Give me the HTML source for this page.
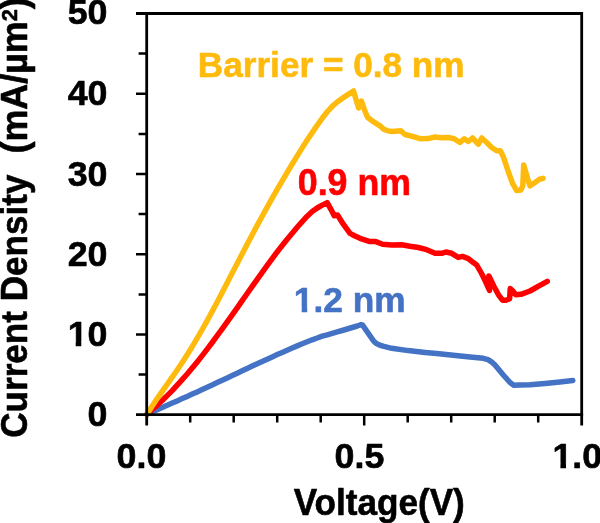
<!DOCTYPE html>
<html><head><meta charset="utf-8"><title>Current Density vs Voltage</title>
<style>
html,body{margin:0;padding:0;background:#fff;}
body{width:600px;height:523px;overflow:hidden;}
svg{display:block;}
text{font-family:"Liberation Sans",sans-serif;font-weight:bold;}
</style></head><body>
<svg width="600" height="523" viewBox="0 0 600 523">
<rect width="600" height="523" fill="#fff"/>
<!-- curves -->
<g fill="none" stroke-width="5.5" stroke-linejoin="round" stroke-linecap="round">
<polyline stroke="#4472C4" points="147.2,414 152.2,411.7 157.2,409.6 162.2,407.4 167.2,405.3 172.2,403.1 177.2,400.9 182.2,398.6 187.2,396.4 192.2,394.1 197.2,391.9 202.2,389.6 207.2,387.3 212.2,384.9 217.2,382.6 222.2,380.3 227.2,377.9 232.2,375.6 237.2,373.2 242.2,370.8 247.2,368.5 252.2,366.1 257.2,363.8 262.2,361.5 267.2,359.2 272.2,356.9 277.2,354.6 282.2,352.4 287.2,350.2 292.2,348.0 297.2,345.9 302.2,343.8 307.2,341.8 312.2,339.8 317.2,338.0 322.2,336.1 327.2,334.8 332.2,333.3 337.2,331.9 342.2,330.5 347.2,329 352.2,327.5 357.2,326 361.2,324.7 362.6,325.2 368.3,333.3 373.8,341.2 376.2,343.4 379,344.8 383,346.2 391.7,348.3 408.3,350.6 425,352.5 436.7,353.6 453.3,355.3 470,357 483.3,358.3 488,359.6 491.5,361.8 495,365 503.3,375 510,382.5 513.8,385.2 520,385 530,384.7 545,383.5 560,382 572.8,380.6"/>
<polyline stroke="#FF0000" points="147.2,414 152.2,409.5 157.2,405.1 162.2,400.5 167.2,395.6 172.2,390.6 177.2,385.2 182.2,379.7 187.2,374.0 192.2,368.0 197.2,361.9 202.2,355.6 207.2,349.1 212.2,342.5 217.2,335.7 222.2,328.9 227.2,321.9 232.2,314.9 237.2,307.8 242.2,300.6 247.2,293.5 252.2,286.4 257.2,279.3 262.2,272.3 267.2,265.4 272.2,258.6 277.2,251.9 282.2,245.5 287.2,239.3 292.2,233.3 297.2,227.3 302.2,221.6 307.2,216.2 312.2,211.6 317.2,208 322.2,205.1 327.2,202.6 331.2,209.8 334.2,215.8 337.5,215 343.3,224.2 350,233.3 355,236 360,238.3 370,241.6 375.8,241.6 382.5,244.2 391.7,245 401.7,244.8 410,246.3 418.3,247.5 426.7,249.7 435,253.2 441.7,253.3 445.8,252 451.7,253.3 458.3,257.4 462.5,256.4 468.3,258.6 473.3,262.6 476.7,265 481.3,273 485.2,280.8 489.5,290.5 488.9,276 494,286.5 498.5,294.8 502.5,300.2 506,300.3 509.6,298.8 510.2,288.6 512.8,290.8 515.8,294.8 521,294.3 530,291 539,285.8 547.3,281.3"/>
<polyline stroke="#FFBB0D" points="147.2,414.0 152.2,406.0 157.2,398.5 162.2,391.4 167.2,384.3 172.2,377.2 177.2,370.0 182.2,362.5 187.2,354.7 192.2,346.6 197.2,338.2 202.2,329.5 207.2,320.6 212.2,311.4 217.2,302.0 222.2,292.5 227.2,282.8 232.2,273.1 237.2,263.5 242.2,253.8 247.2,244.2 252.2,234.7 257.2,225.4 262.2,216.2 267.2,207.1 272.2,198.2 277.2,189.4 282.2,180.8 287.2,172.3 292.2,164.0 297.2,155.9 302.2,147.9 307.2,140.1 312.2,132.6 317.2,125.3 322.2,118.3 327.2,111.8 332.2,106.4 337.2,102 342.2,98.4 348.3,94.4 353.5,91 356,99.5 358.6,108 361.4,101 364.2,109.2 367.5,117.3 373.3,121.7 380,125.8 383.3,129 387,130.6 391.7,131.5 400.8,130.8 405,134.5 413.3,136.7 420,138.7 428.3,138.6 435,137 441.7,137.7 448.3,137.5 454.2,138.7 460,142.5 464.2,138.8 468.3,141.5 472.5,138 478.3,144.2 481.7,138 486.7,142.5 491.7,147.5 496.7,150.7 500.3,150.7 503.3,156.7 508.3,171.7 512.5,183.3 516.7,190.6 520.8,190 522.8,185.8 523.7,165 527.5,178.3 530,185.8 535,182.5 539.2,179.4 543,178.3"/>
</g>
<!-- frame & ticks -->
<g stroke="#000" stroke-width="2.8" fill="none">
<path d="M136,13.5H581.7V425.5"/>
<path d="M146.7,13.5V425.5"/>
<path d="M136,414.7H583.1"/>
<g stroke-width="2.5">
<path d="M136,93.8H146.7M136,174H146.7M136,254.3H146.7M136,334.5H146.7"/>
<path d="M138.6,53.6H146.7M138.6,133.9H146.7M138.6,214.1H146.7M138.6,294.4H146.7M138.6,374.6H146.7"/>
<path d="M364.2,414.7V425.5"/>
<path d="M190.2,414.7V422.6M233.7,414.7V422.6M277.2,414.7V422.6M320.7,414.7V422.6M407.7,414.7V422.6M451.2,414.7V422.6M494.7,414.7V422.6M538.2,414.7V422.6"/>
</g>
</g>
<!-- tick labels -->
<g font-size="36" fill="#000" stroke="#000" stroke-width="0.6" stroke-linejoin="round">
<g font-size="35.8">
<text x="107.5" y="23.9" text-anchor="end">50</text>
<text x="107.5" y="105.4" text-anchor="end">40</text>
<text x="107.5" y="185.7" text-anchor="end">30</text>
<text x="107.5" y="265.9" text-anchor="end">20</text>
<text x="107.5" y="346.2" text-anchor="end">10</text>
<text x="107.5" y="426.4" text-anchor="end">0</text>
<text x="141.5" y="468.3" text-anchor="middle">0.0</text>
<text x="359.5" y="468.3" text-anchor="middle">0.5</text>
<text x="577.3" y="468.3" text-anchor="middle">1.0</text>
</g>
<text x="293.8" y="515" textLength="171" lengthAdjust="spacingAndGlyphs">Voltage(V)</text>
<text transform="translate(27.4,437.8) rotate(-90) scale(0.9755,1)">Current Density</text>
<text transform="translate(27.4,153.4) rotate(-90) scale(0.995,1)">(mA/µm<tspan dy="-10.4" font-size="22">2</tspan><tspan dy="10.4">)</tspan></text>
</g>
<g font-size="35.4" stroke-width="0.6" stroke-linejoin="round">
<text x="197.8" y="76.8" fill="#FFBB0D" stroke="#FFBB0D" textLength="266.8" lengthAdjust="spacingAndGlyphs">Barrier = 0.8 nm</text>
<text x="297.8" y="194.6" fill="#FF0000" stroke="#FF0000" font-size="36" textLength="113.2" lengthAdjust="spacingAndGlyphs">0.9 nm</text>
<text x="293.8" y="312" fill="#4472C4" stroke="#4472C4" textLength="111.8" lengthAdjust="spacingAndGlyphs">1.2 nm</text>
</g>
<g fill="#fff"><rect x="68.93" y="341.55" width="6.75" height="6.15"/><rect x="81.29" y="341.55" width="6.30" height="6.15"/><rect x="553.67" y="463.65" width="6.75" height="6.15"/><rect x="566.03" y="463.65" width="6.30" height="6.15"/><rect x="295.02" y="307.39" width="6.66" height="6.11"/><rect x="307.23" y="307.39" width="6.22" height="6.11"/></g>
</svg>
</body></html>
